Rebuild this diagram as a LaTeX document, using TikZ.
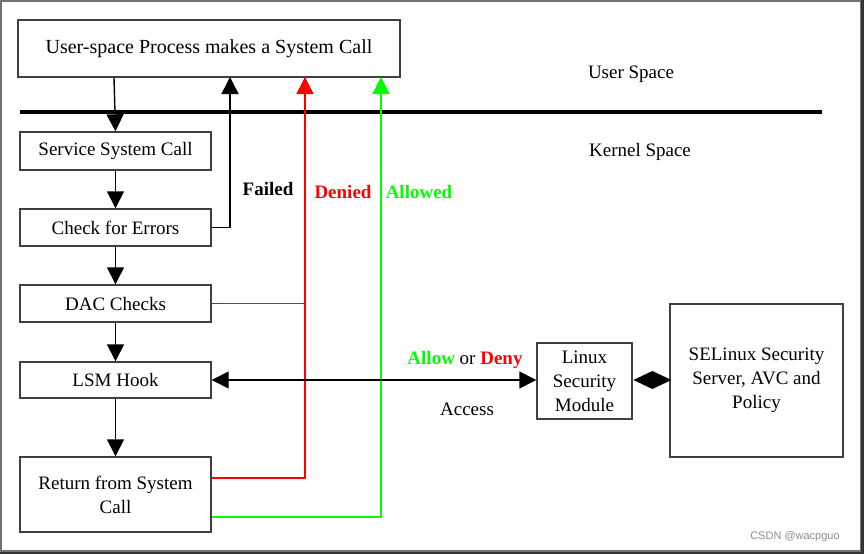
\documentclass[tikz,border=0pt]{standalone}
\usepackage{fontspec}
\setmainfont{Liberation Serif}
\newfontfamily\wmfont{Liberation Sans}
\usetikzlibrary{arrows.meta,calc}
\definecolor{gr}{RGB}{0,255,0}
\definecolor{rd}{RGB}{255,0,0}
\begin{document}
\begin{tikzpicture}[x=1pt,y=-1pt,
  box/.style={draw=black!75,line width=1.4pt,minimum width=191pt,inner sep=0pt,align=center,font=\fontsize{19}{24}\selectfont},
  lbl/.style={font=\fontsize{19}{24}\selectfont,inner sep=0pt},
  tip/.style={-{Triangle[length=17pt,width=17pt]}},
  ln/.style={line width=1.4pt}]
\useasboundingbox (0,0) rectangle (865,554);
\draw[black!55,line width=1.5pt] (1,1) rectangle (861,551);
\draw[black!80,line width=3pt] (862,0) -- (862,553) -- (0,553);
\node[box,minimum width=382pt,minimum height=57pt,font=\fontsize{20}{24}\selectfont] (usr) at (209,48.5) {User-space Process makes a System Call};
\draw[line width=4pt] (20,112) -- (822,112);
\node[box,minimum height=38pt] (ssc) at (115.5,151) {Service System Call};
\node[box,minimum height=37pt] (cfe) at (115.5,227.5) {Check for Errors};
\node[box,minimum height=37pt] (dac) at (115.5,303.5) {DAC Checks};
\node[box,minimum height=36pt] (lsm) at (115.5,380) {LSM Hook};
\node[box,minimum height=75pt] (ret) at (115.5,494.5) {Return from System\\Call};
\node[box,minimum width=95pt,minimum height=76pt] (mod) at (584.5,381) {Linux\\Security\\Module};
\node[box,minimum width=173pt,minimum height=153pt] (sel) at (756.5,380.5) {SELinux Security\\Server, AVC and\\Policy};
\coordinate (c1) at (230,77);
\coordinate (c2) at (305,77);
\coordinate (c3) at (381,77);
\draw[ln,tip] (usr.south -| 114,0) -- (ssc.north);
\draw[ln,tip] (ssc) -- (cfe);
\draw[ln,tip] (cfe) -- (dac);
\draw[ln,tip] (dac) -- (lsm);
\draw[ln,tip] (lsm) -- (ret);
\draw[ln,tip] (cfe.east) -| (c1);
\draw[ln,color=rd,tip] (dac.east) -| (c2);
\draw[ln,color=rd] (ret.east |- 0,478) -| (c2);
\draw[ln,color=gr,tip] (ret.east |- 0,517) -| (c3);
\draw[ln,{Triangle[length=17pt,width=17pt]}-{Triangle[length=17pt,width=17pt]}] (lsm.east) -- (mod.west |- lsm.east);
\fill ($(mod.east)+(0.7,-1)$) -- ++(19,-9) -- ++(19,9) -- ++(-19,9) -- cycle;
\node[lbl,font=\fontsize{19}{24}\selectfont\bfseries] (f) at (268,189) {Failed};
\node[lbl,font=\fontsize{19}{24}\selectfont\bfseries,rd] (d) at (343,192) {Denied};
\node[lbl,font=\fontsize{19}{24}\selectfont\bfseries,gr] (a) at (419,192) {Allowed};
\node[lbl] (ad) at (465,360) {\textbf{\color{gr}Allow} or \textbf{\color{rd}Deny}};
\node[lbl] (acc) at (467,409) {Access};
\node[lbl] (us) at (631,74) {User Space};
\node[lbl] (ks) at (640,152) {Kernel Space};
\node[inner sep=0pt,text=black!45,font=\wmfont\fontsize{11}{13}\selectfont] (wm) at (795,537) {CSDN @wacpguo};
\end{tikzpicture}
\end{document}
